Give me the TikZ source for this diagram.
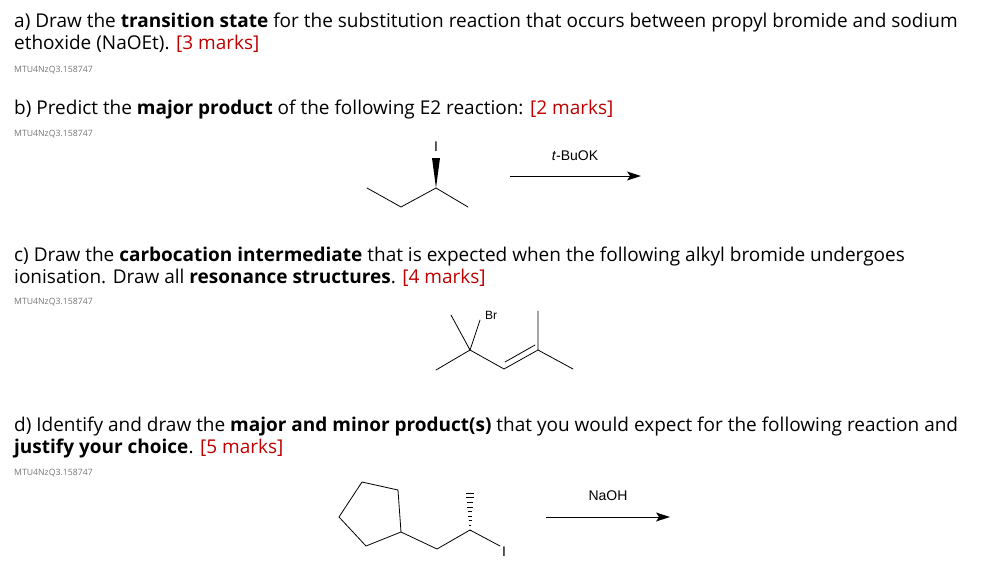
\documentclass[tikz,border=0pt]{standalone}
\usepackage{fontspec}
\setmainfont{Open Sans}
\newfontfamily\arialf{Liberation Sans}
\usetikzlibrary{arrows.meta}
\definecolor{mred}{HTML}{C00000}
\definecolor{tagc}{HTML}{777777}
\begin{document}
\begin{tikzpicture}[x=1pt,y=-1pt,
  txt/.style={anchor=base west,inner sep=0,font=\fontsize{19}{22}\selectfont},
  tag/.style={anchor=base west,inner sep=0,text=tagc,font=\fontsize{8.7}{10}\selectfont},
  bond/.style={line width=0.8pt,line cap=round},
  lab/.style={inner sep=1pt,font=\arialf\fontsize{14}{16}\selectfont},
  rx/.style={line width=0.8pt}]
\useasboundingbox[fill=white] (0,0) rectangle (1007,571);
\node[txt] (a1) at (14,27) {a) Draw the \textbf{transition state} for the substitution reaction that occurs between propyl bromide and sodium};
\node[txt] (a2) at (14,49) {ethoxide (NaOEt). \textcolor{mred}{[3 marks]}};
\node[tag] (ta) at (14,72) {MTU4NzQ3.158747};
\node[txt] (b1) at (14,114) {b) Predict the \textbf{major product} of the following E2 reaction: \textcolor{mred}{[2 marks]}};
\node[tag] (tb) at (14,136) {MTU4NzQ3.158747};
% b molecule
\coordinate (b1a) at (367,188); \coordinate (b2) at (401,207);
\coordinate (b3) at (436,188); \coordinate (b4) at (468,207);
\draw[bond] (b1a)--(b2)--(b3)--(b4);
\fill (b3) -- (432,158) -- (440,158) -- cycle;
\node[lab] (bI) at (436,147) {I};
\coordinate (ba) at (510,176); \coordinate (bb) at (641,176);
\draw[rx] (ba)--(630,176);
\fill (bb) -- (627,171.5) -- (630,176) -- (627,180.5) -- cycle;
\node[lab] (bk) at (575,156) {\textit{t}-BuOK};
\node[txt] (c1) at (14,261) {c) Draw the \textbf{carbocation intermediate} that is expected when the following alkyl bromide undergoes};
\node[txt] (c2) at (14,283) {ionisation. Draw all \textbf{resonance structures}. \textcolor{mred}{[4 marks]}};
\node[tag] (tc) at (14,304) {MTU4NzQ3.158747};
% c molecule
\coordinate (c0) at (470,350);
\draw[bond] (451,315)--(c0)--(436,370);
\draw[bond] (c0)--(480,320);
\node[lab,font=\arialf\fontsize{12}{14}\selectfont] (cBr) at (491,315) {Br};
\draw[bond] (c0)--(504,369)--(538,350)--(538,311);
\draw[bond] (538,350)--(573,369);
\draw[bond] (505,362)--(535,345);
\node[txt] (d1) at (14,431) {d) Identify and draw the \textbf{major and minor product(s)} that you would expect for the following reaction and};
\node[txt] (d2) at (14,453) {\textbf{justify your choice}. \textcolor{mred}{[5 marks]}};
\node[tag] (td) at (14,475) {MTU4NzQ3.158747};
% d molecule
\draw[bond] (362,482)--(398,490)--(401,532)--(366,546)--(339,517)--cycle;
\draw[bond] (401,532)--(437,549)--(470,530)--(500,546);
\node[lab] (dI) at (504,552) {I};
\foreach \i in {0,...,8}{
  \pgfmathsetmacro\yy{530-\i*4.6}
  \pgfmathsetmacro\ww{0.6+\i*0.45}
  \draw[line width=0.7pt] (470-\ww,\yy)--(470+\ww,\yy);}
\draw[rx] (546,517)--(659,517);
\fill (670,517) -- (656,512.5) -- (659,517) -- (656,521.5) -- cycle;
\node[lab] (dn) at (608,496) {NaOH};
\end{tikzpicture}
\end{document}
